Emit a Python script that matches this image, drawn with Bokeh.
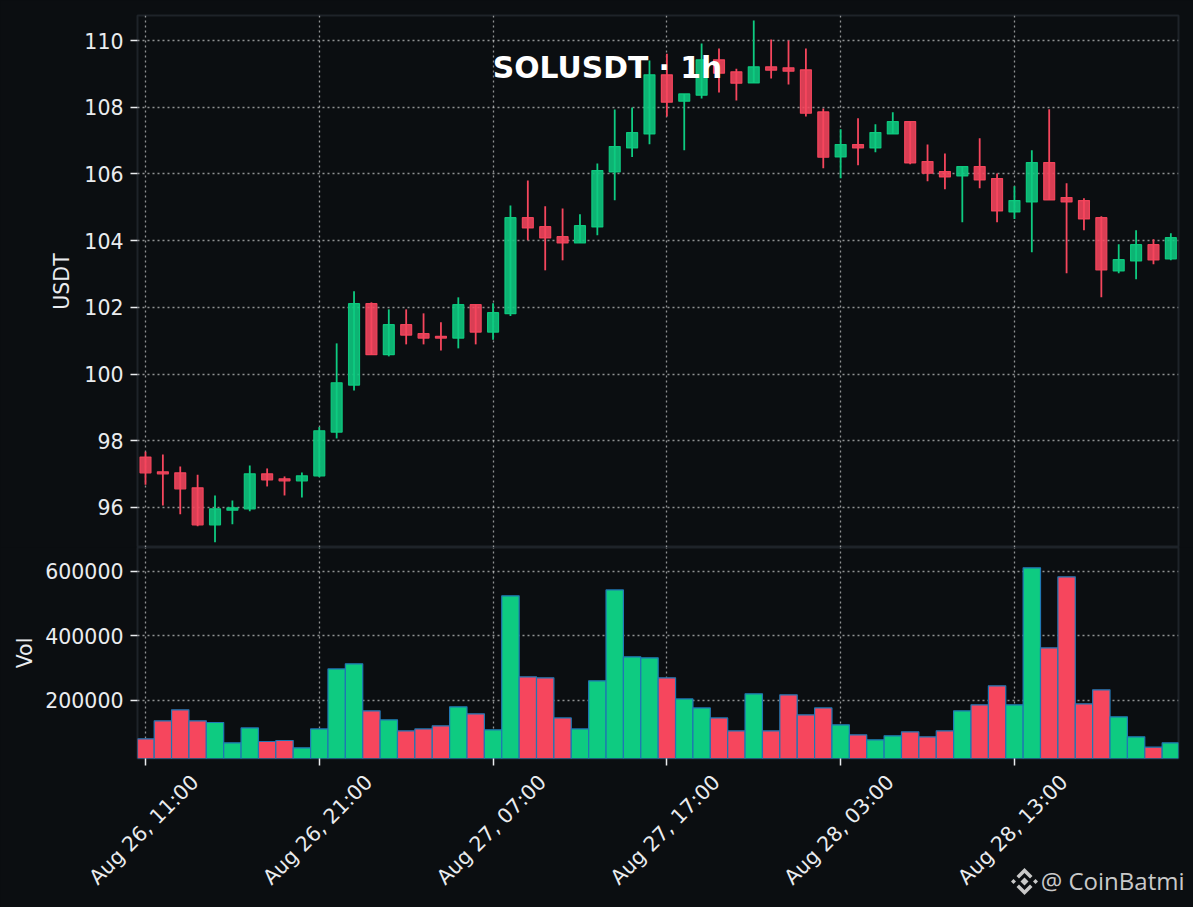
from bokeh.plotting import figure
from bokeh.layouts import column
from bokeh.embed import file_html
from bokeh.resources import INLINE
from bokeh.core.properties import value
from bokeh.models import (ColumnDataSource, FixedTicker, Range1d, Label, LinearAxis,
                          BasicTickFormatter)
import math

bars = list(range(60))
opens = [97.51,97.07,97.04,96.59,95.48,95.92,95.96,97.01,96.86,96.80,
         96.95,98.26,99.67,102.11,100.58,101.48,101.21,101.13,101.08,102.08,
         101.26,101.81,104.69,104.42,104.12,103.93,104.41,106.06,106.78,107.20,
         108.97,108.18,108.36,109.42,109.06,108.73,109.21,109.18,109.12,107.86,
         106.51,106.88,106.78,107.20,107.57,106.37,106.07,105.94,106.22,105.86,
         104.86,105.16,106.34,105.29,105.20,104.69,103.09,103.39,103.88,103.45]
closes = [97.04,97.01,96.56,95.48,95.96,95.99,97.01,96.83,96.80,96.95,
          98.30,99.74,102.11,100.58,101.48,101.17,101.08,101.08,102.08,101.26,
          101.84,104.69,104.38,104.08,103.93,104.45,106.10,106.82,107.24,108.97,
          108.15,108.40,109.42,109.02,108.72,109.21,109.11,109.08,107.82,106.50,
          106.88,106.78,107.24,107.57,106.33,106.02,105.91,106.22,105.82,104.89,
          105.20,106.34,105.22,105.16,104.65,103.12,103.43,103.88,103.42,104.09]
highs = [97.67,97.59,97.23,96.98,96.36,96.21,97.26,97.17,96.93,97.05,
         98.41,100.92,102.48,102.15,101.94,101.94,101.82,101.55,102.30,102.08,
         102.12,105.05,105.80,105.03,104.96,104.79,106.31,107.93,107.99,109.40,
         109.60,108.40,109.91,109.76,109.15,110.60,110.03,110.00,109.76,107.96,
         107.34,107.67,107.49,107.85,107.57,106.88,106.61,106.22,107.07,106.01,
         105.63,106.71,107.94,105.72,105.27,104.73,103.89,104.31,104.04,104.22]
lows = [96.68,96.06,95.80,95.44,94.96,95.50,95.89,96.63,96.36,96.30,
        96.91,98.07,99.51,100.58,100.53,100.89,100.89,100.71,100.77,100.89,
        101.03,101.74,104.01,103.11,103.41,103.93,104.16,105.21,106.51,106.89,
        107.72,106.71,108.26,108.44,108.20,108.73,108.86,108.68,107.72,106.17,
        105.87,106.26,106.65,107.20,106.29,105.78,105.54,104.55,105.57,104.55,
        104.65,103.65,105.22,103.02,104.31,102.30,103.02,102.84,103.29,103.41]
volumes = [81100,137000,171000,137000,131800,68700,115000,72900,76000,53200,
           112000,298000,313700,168000,140000,106000,112000,121400,180400,158700,
           109000,524500,273400,270300,146000,112000,261000,543000,335400,332300,
           270300,205000,177000,146000,106000,220700,106000,217600,155600,177000,
           124500,93500,78000,90400,102800,87300,106000,168000,186600,245500,
           186600,611400,363300,583500,189700,233000,149400,87300,55300,68700]

price_ticks = [96, 98, 100, 102, 104, 106, 108, 110]
volume_ticks = [200000, 400000, 600000]
time_ticks = [0, 10, 20, 30, 40, 50]
time_labels = ["Aug 26, 11:00", "Aug 26, 21:00", "Aug 27, 07:00",
               "Aug 27, 17:00", "Aug 28, 03:00", "Aug 28, 13:00"]
title_text = "SOLUSDT · 1h"
watermark = "@ CoinBatmi"

BG = "#0b0e11"
UP, DOWN = "#0ecb81", "#f6465d"
SPINE = "#1e2329"
TXT = "#eaecef"
FONT = "DejaVu Sans"
TICK_SIZE = "20.5px"
LABEL_SHIFT = 2.85

colors = [UP if c >= o else DOWN for o, c in zip(opens, closes)]
tops = [max(o, c) for o, c in zip(opens, closes)]
bots = [min(o, c) for o, c in zip(opens, closes)]
src = ColumnDataSource(dict(x=bars, o=opens, c=closes, h=highs, l=lows, v=volumes,
                            color=colors, top=tops, bot=bots))
x_range = Range1d(-0.46, 59.44)


def style(p, yticks, label_standoff):
    p.background_fill_color = BG
    p.border_fill_color = BG
    p.outline_line_color = SPINE
    p.outline_line_width = 2
    p.yaxis.ticker = FixedTicker(ticks=yticks)
    for g in (p.xgrid[0], p.ygrid[0]):
        g.grid_line_color = "#ffffff"
        g.grid_line_alpha = 0.55
        g.grid_line_dash = "2 3"
        g.grid_line_width = 1.3
    p.xgrid[0].ticker = FixedTicker(ticks=time_ticks)
    p.ygrid[0].ticker = FixedTicker(ticks=yticks)
    for ax in p.yaxis:
        ax.axis_line_color = None
        ax.major_tick_line_color = TXT
        ax.major_tick_line_width = 1.5
        ax.major_tick_out = 7
        ax.major_tick_in = 0
        ax.minor_tick_line_color = None
        ax.major_label_text_color = TXT
        ax.major_label_text_font = FONT
        ax.major_label_text_font_size = TICK_SIZE
        ax.major_label_standoff = 7
        ax.axis_label_text_color = TXT
        ax.axis_label_text_font = FONT
        ax.axis_label_text_font_size = TICK_SIZE
        ax.axis_label_text_font_style = "normal"
        ax.axis_label_standoff = label_standoff


top = figure(frame_width=1041, frame_height=532, x_range=x_range,
             y_range=Range1d(94.80, 110.75), output_backend="svg", toolbar_location=None,
             min_border_left=137, min_border_right=15, min_border_top=15, min_border_bottom=0,
             y_axis_label="USDT")
top.xaxis.visible = False
style(top, price_ticks, 7)
top.segment("x", "h", "x", "l", source=src, line_color="color", line_width=1.8)
top.vbar("x", 0.63, "top", "bot", source=src, fill_color="color", fill_alpha=0.88,
         line_color="color", line_alpha=0.95, line_width=1.2)
top.add_layout(Label(x=470, y=480, x_units="screen", y_units="screen", text=title_text,
                     text_color="#ffffff", text_font=FONT, text_font_style="bold",
                     text_font_size="29.8px", text_align="center", text_baseline="middle"))

bottom = figure(frame_width=1041, frame_height=211, x_range=x_range,
                y_range=Range1d(20155, 674400), output_backend="svg", toolbar_location=None,
                min_border_left=137, min_border_right=15, min_border_top=0, min_border_bottom=149,
                y_axis_label="Vol")
style(bottom, volume_ticks, 5)
bottom.yaxis.formatter = BasicTickFormatter(use_scientific=False)
bottom.vbar("x", 1.0, "v", 0, source=src, fill_color="color", line_color="#1f77b4", line_width=1.2)
ax = bottom.xaxis[0]
ax.ticker = FixedTicker(ticks=time_ticks)
ax.axis_line_color = None
ax.major_tick_line_color = TXT
ax.major_tick_line_width = 1.5
ax.major_tick_out = 7
ax.major_tick_in = 0
ax.minor_tick_line_color = None
ax.major_label_text_font_size = "0px"
ax.major_label_text_color = None
ax.major_label_standoff = 0

# matplotlib centres rotated labels on the tick; Bokeh anchors their end there
shifted = [t + LABEL_SHIFT for t in time_ticks]
label_axis = LinearAxis(ticker=FixedTicker(ticks=shifted),
                        major_label_overrides=dict(zip(shifted, time_labels)),
                        major_label_orientation=math.pi / 4,
                        major_label_text_color=TXT, major_label_text_font=FONT,
                        major_label_text_font_size=TICK_SIZE, major_label_standoff=7,
                        axis_line_color=None, major_tick_line_color=None,
                        minor_tick_line_color=None)
bottom.add_layout(label_axis, "below")

# watermark, a transparent strip that lies over the bottom of the page;
# the column aligns its frame with the frames above, so it starts at x=137
mark = figure(frame_width=1056, frame_height=35, x_range=Range1d(137, 1193), y_range=Range1d(0, 35),
              x_axis_type=None, y_axis_type=None, output_backend="svg", toolbar_location=None,
              min_border=0, min_border_left=137, margin=(-44, 0, 0, 0), outline_line_color=None,
              background_fill_color=None, border_fill_color=None)
mark.grid.visible = False
mark.text([1184], [18], text=[watermark], text_color="#c9c9c9", text_font=value("Open Sans"),
          text_font_size="24px", text_align="right", text_baseline="middle")
cx, cy = 1024, 17
pieces = [
    [(-4, 0), (0, 4), (4, 0), (0, -4)],
    [(-13.5, 0), (-11, 2.5), (-8.5, 0), (-11, -2.5)],
    [(13.5, 0), (11, 2.5), (8.5, 0), (11, -2.5)],
    [(0, 13.5), (-8, 5.5), (-5.5, 3), (0, 8.5), (5.5, 3), (8, 5.5)],
    [(0, -13.5), (-8, -5.5), (-5.5, -3), (0, -8.5), (5.5, -3), (8, -5.5)],
]
mark.patches([[cx + a for a, b in q] for q in pieces], [[cy + b for a, b in q] for q in pieces],
             fill_color="#c9c9c9", line_color=None)

layout = column(top, bottom, mark, spacing=0)
html = file_html(layout, INLINE)
html = html.replace("<body>", '<body style="background:#0b0e11">')
open("out.html", "w").write(html)
